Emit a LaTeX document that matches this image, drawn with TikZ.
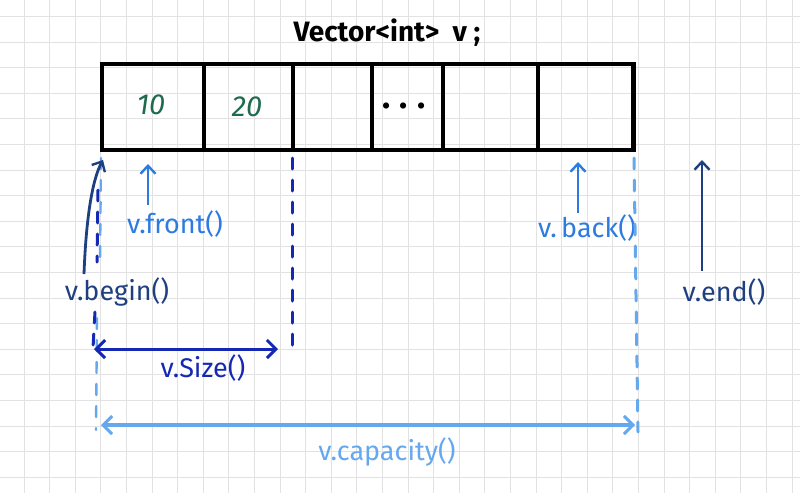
\documentclass[tikz,border=0pt]{standalone}
\usepackage{fontspec}
\setmainfont{Fira Sans}
\usetikzlibrary{arrows.meta}
\definecolor{gridc}{HTML}{E2E2E2}
\definecolor{numgreen}{HTML}{1F6B4F}
\definecolor{midblue}{HTML}{2E7BE0}
\definecolor{navy}{HTML}{1F4080}
\definecolor{deepblue}{HTML}{1428B4}
\definecolor{lightblue}{HTML}{66A8EE}
\tikzset{
  gridline/.style={draw=gridc, line width=1pt},
  cellbox/.style={draw=black, line width=3.2pt},
  lbl/.style={font=\fontsize{27}{30}\selectfont, inner sep=0pt},
  numtxt/.style={font=\fontsize{29}{30}\selectfont\itshape, text=numgreen, inner sep=0pt},
  ptr/.style={line width=2.4pt, -{Straight Barb[length=8pt,width=15pt,line width=2.4pt]}},
  dim/.style={line width=3pt, {Straight Barb[length=9pt,width=18pt,line width=3pt]}-{Straight Barb[length=9pt,width=18pt,line width=3pt]}},
  dashline/.style={line width=3pt, dash pattern=on 11pt off 11pt, line cap=round}
}
\begin{document}
\begin{tikzpicture}[x=1pt,y=-1pt]
\useasboundingbox (0,0) rectangle (800,493);
\fill[white] (0,0) rectangle (800,493);
% grid
\foreach \i in {0,...,30} {\draw[gridline] ({24+25.6*\i},0) -- ({24+25.6*\i},493);}
\foreach \j in {0,...,19} {\draw[gridline] (0,{16.5+25.6*\j}) -- (800,{16.5+25.6*\j});}
% title
\node[inner sep=0pt, font=\fontsize{28}{32}\selectfont\bfseries] (title) at (387,33) {Vector<int>\ \ v ;};
% array
\draw[cellbox] (102,64) rectangle (634,150);
\foreach \x in {204,293,372,443,538} {\draw[cellbox] (\x,64) -- (\x,150);}
\draw[black, line width=5pt] (633,64) -- (633,150);
\node[numtxt] (n10) at (151,105) {10};
\node[numtxt] (n20) at (247,107) {20};
\node[font=\fontsize{34}{36}\selectfont\bfseries, inner sep=0pt, anchor=base] (dots) at (404,108) {.\kern9pt.\kern9pt.};
% coordinates for pointers
\coordinate (beginTip) at (103,160);
\coordinate (frontTip) at (148,164);
\coordinate (backTip) at (578,162);
\coordinate (endTip) at (702,160);
% labels
\node[lbl, text=midblue] (front) at (175,224) {v.front()};
\node[lbl, text=navy] (begin) at (117,292) {v.begin()};
\node[lbl, text=midblue] (back) at (587,228) {v.\,back()};
\node[lbl, text=navy] (endl) at (724,292) {v.end()};
\node[lbl, text=deepblue] (size) at (203,368) {v.Size()};
\node[lbl, text=lightblue] (cap) at (387,452) {v.capacity()};
% dashed guide lines
\coordinate (lbA) at (101,158);
\coordinate (lbB) at (100,262);
\coordinate (lbC) at (97,318);
\coordinate (lbD) at (96,430);
\draw[dashline, lightblue, line width=2.4pt] (lbA) -- (lbB);
\draw[dashline, lightblue, line width=2.4pt] (lbC) -- (lbD);
\coordinate (dbA) at (98,190);
\coordinate (dbB) at (97,262);
\coordinate (dbC) at (95,312);
\coordinate (dbD) at (93,348);
\draw[dashline, deepblue] (dbA) -- (dbB);
\draw[dashline, deepblue] (dbC) -- (dbD);
\coordinate (sdA) at (292,158);
\coordinate (sdB) at (292,345);
\draw[dashline, deepblue] (sdA) -- (sdB);
\coordinate (rdA) at (634,158);
\coordinate (rdB) at (638,432);
\draw[dashline, lightblue] (rdA) -- (rdB);
% pointer arrows
\draw[ptr, midblue] (148,205) -- (frontTip);
\draw[ptr, midblue] (578,213) -- (backTip);
\draw[ptr, navy, line width=2.8pt] (702,271) -- (endTip);
\draw[ptr, navy, line width=2.8pt] (84,274) .. controls (86,220) and (92,180) .. (beginTip);
% dimension arrows
\coordinate (szL) at (94,349);
\coordinate (szR) at (278,349);
\draw[dim, deepblue] (szL) -- (szR);
\coordinate (cpL) at (101,425);
\coordinate (cpR) at (635,425);
\draw[dim, lightblue, line width=3.4pt] (cpL) -- (cpR);
\end{tikzpicture}
\end{document}
